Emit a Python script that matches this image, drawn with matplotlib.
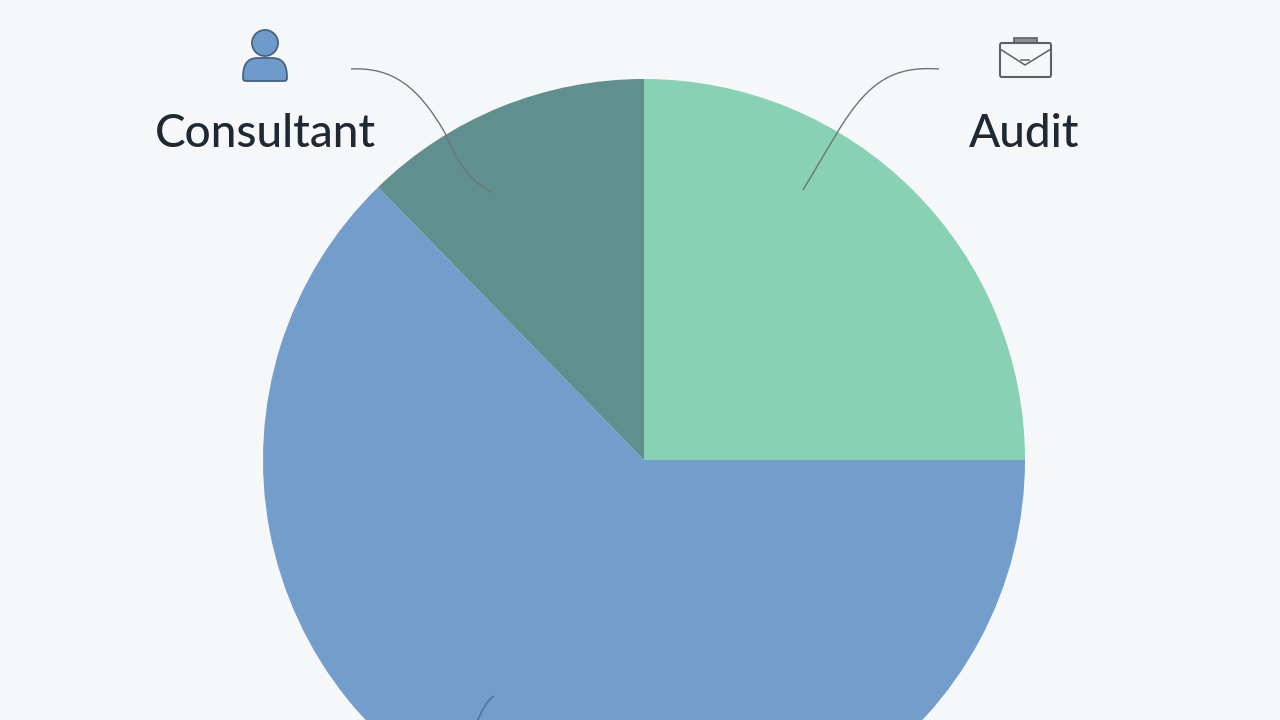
import matplotlib
matplotlib.use('Agg')
import matplotlib.pyplot as plt
from matplotlib.patches import Circle, FancyBboxPatch, PathPatch, Rectangle
from matplotlib.path import Path

# Share of each slice, clockwise from 12 o'clock
categories = ['Audit', 'Other', 'Consultant']
values = [25, 62.7, 12.3]
colors = ['#88d1b5', '#739ecb', '#5f908e']

BG = '#f6f7f9'
TEXT = '#1f2933'
LINE = '#6d7478'
H = 720


def py(y):
    # picture y (top down) to axes y
    return H - y


def curve(ax, pts, color=LINE, lw=1.0):
    # pts: start, then three control points per bezier segment
    codes = [Path.MOVETO] + [Path.CURVE4] * (len(pts) - 1)
    verts = [(x, py(y)) for x, y in pts]
    ax.add_patch(PathPatch(Path(verts, codes), fc='none', ec=color, lw=lw, zorder=4))


fig = plt.figure(figsize=(12.8, 7.2), dpi=100, facecolor=BG)
ax = fig.add_axes([0, 0, 1, 1])
ax.set_facecolor(BG)

ax.pie(values, colors=colors, startangle=90, counterclock=False,
       center=(644, py(460)), radius=381, frame=True,
       wedgeprops={'linewidth': 0})
ax.set_xlim(0, 1280)
ax.set_ylim(0, H)
ax.set_aspect('equal')
ax.axis('off')

# Leader lines
curve(ax, [(351, 69), (392, 67), (418, 86), (445, 133),
           (456, 160), (470, 182), (492, 192)])
curve(ax, [(939, 69), (895, 66), (870, 80), (840, 128),
           (828, 148), (815, 170), (803, 190)])
curve(ax, [(494, 696), (487, 700), (482, 710), (477, 722)], color='#55779f', lw=1.3)

# Person icon
fill = '#6f9bcc'
edge = '#46627f'
ax.add_patch(Circle((265, py(43)), 13, fc=fill, ec=edge, lw=1.3, zorder=5))
body = Path([(243, py(78)), (243, py(66)), (246, py(58)), (258, py(58)),
             (272, py(58)), (284, py(58)), (287, py(66)), (287, py(78)),
             (287, py(80)), (286, py(81)), (284, py(81)),
             (246, py(81)), (244, py(81)), (243, py(80)), (243, py(78)), (243, py(78))],
            [Path.MOVETO, Path.CURVE4, Path.CURVE4, Path.CURVE4, Path.LINETO,
             Path.CURVE4, Path.CURVE4, Path.CURVE4, Path.CURVE4, Path.CURVE4, Path.CURVE4,
             Path.LINETO, Path.CURVE4, Path.CURVE4, Path.CURVE4, Path.CLOSEPOLY])
ax.add_patch(PathPatch(body, fc=fill, ec=edge, lw=1.3, zorder=5))

# Briefcase icon
icon = '#5b6266'
ax.add_patch(Rectangle((1014, py(43)), 23, 5, fc='#8a9094', ec=icon, lw=1.2, zorder=5))
ax.add_patch(FancyBboxPatch((1000, py(77)), 51, 34, boxstyle='round,pad=0,rounding_size=2',
                            fc=BG, ec=icon, lw=1.5, zorder=6))
ax.plot([1000, 1025, 1051], [py(49), py(65), py(49)], color=icon, lw=1.1, zorder=7)
ax.plot([1021, 1029], [py(60), py(60)], color=icon, lw=1.1, zorder=7)

# Labels
ax.text(265, py(130), 'Consultant', fontsize=33, family='Lato', weight='medium', color=TEXT,
        ha='center', va='center_baseline', zorder=8)
ax.text(1024, py(130), 'Audit', fontsize=33, family='Lato', weight='medium', color=TEXT,
        ha='center', va='center_baseline', zorder=8)

fig.savefig('out.png', dpi=100, facecolor=BG)
